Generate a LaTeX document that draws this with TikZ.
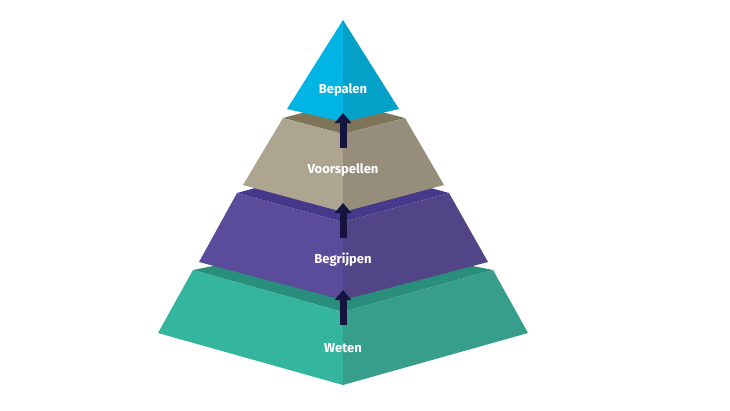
\documentclass[tikz,border=0pt]{standalone}
\usepackage{fontspec}
\setmainfont{Fira Sans}
\usetikzlibrary{arrows.meta,positioning}
\definecolor{cyanL}{HTML}{00B4E3}
\definecolor{cyanR}{HTML}{03A0C8}
\definecolor{tanL}{HTML}{ADA58F}
\definecolor{tanR}{HTML}{968D7B}
\definecolor{tanT}{HTML}{7E7558}
\definecolor{purL}{HTML}{5A4C9A}
\definecolor{purR}{HTML}{514487}
\definecolor{purT}{HTML}{46388A}
\definecolor{grnL}{HTML}{33B59E}
\definecolor{grnR}{HTML}{389E8C}
\definecolor{grnT}{HTML}{2A8E7C}
\definecolor{navy}{HTML}{14143F}

\begin{document}
\begin{tikzpicture}[x=1pt,y=-1pt]
			\tikzstyle{Label}	= [text=white, font=\bfseries\fontsize{13}{15}\selectfont]
			\tikzstyle{Step}	= [navy, line width=7pt, -{Triangle[width=16pt,length=10pt]}]
			
			\fill[white] (0,0) rectangle (730,410);
			
			% green layer
			\fill[grnT] (193,270) -- (343,240) -- (493,270) -- (343,312) -- cycle;
			\fill[grnL] (193,270) -- (343,312) -- (343,385) -- (158,333) -- cycle;
			\fill[grnR] (493,270) -- (343,312) -- (343,385) -- (528,333) -- cycle;
			
			% purple layer
			\fill[purT] (237,193) -- (343,164) -- (449,193) -- (343,222) -- cycle;
			\fill[purL] (237,193) -- (343,222) -- (343,300) -- (199,262) -- cycle;
			\fill[purR] (449,193) -- (343,222) -- (343,300) -- (488,262) -- cycle;
			
			% tan layer
			\fill[tanT] (283,118) -- (343,102) -- (405,118) -- (343,134) -- cycle;
			\fill[tanL] (283,118) -- (343,134) -- (343,212) -- (243,185) -- cycle;
			\fill[tanR] (405,118) -- (343,134) -- (343,212) -- (444,185) -- cycle;
			
			% top
			\fill[cyanL] (343,20) -- (343,122) -- (287,109) -- cycle;
			\fill[cyanR] (343,20) -- (343,122) -- (399,109) -- cycle;
			
			\node (bepalen) at (343,90) [Label] {Bepalen};
			\node (voorspellen) at (343,170) [Label] {Voorspellen};
			\node (begrijpen) at (343,260) [Label] {Begrijpen};
			\node (weten) at (343,348) [Label] {Weten};
			
			\coordinate (s1) at (343,148);
			\coordinate (t1) at (343,113);
			\coordinate (s2) at (343,238);
			\coordinate (t2) at (343,203);
			\coordinate (s3) at (343,325);
			\coordinate (t3) at (343,290);
			
			\draw [Step] (s1) -- (t1);
			\draw [Step] (s2) -- (t2);
			\draw [Step] (s3) -- (t3);
		\end{tikzpicture}
\end{document}
